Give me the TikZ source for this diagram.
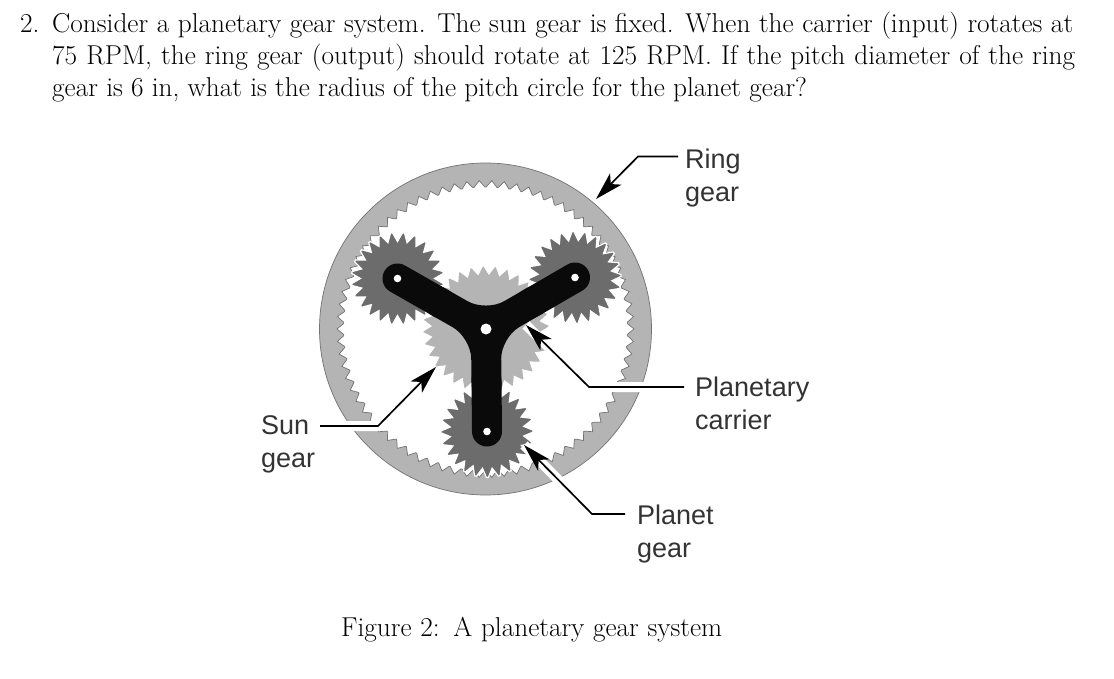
\documentclass[tikz,border=0pt]{standalone}
\usepackage{fontspec}
\usetikzlibrary{arrows.meta,calc}
\newfontfamily\labelfont{Liberation Sans}
\definecolor{gearlight}{HTML}{B4B4B4}
\definecolor{geardark}{HTML}{6C6C6C}
\definecolor{armblack}{HTML}{0A0A0A}
\definecolor{labelgrey}{HTML}{333333}
\newcommand{\toothring}[6]{% centre, root r, tip r, teeth, phase, halfwidth frac
  ($(#1)+(#5:#2)$) \foreach \k in {1,...,#4}{
    -- ($(#1)+({#5+(\k-0.5-#6)*(360/#4)}:#3)$)
    -- ($(#1)+({#5+(\k-0.5+#6)*(360/#4)}:#3)$)
    -- ($(#1)+({#5+\k*(360/#4)}:#2)$)
  } -- cycle
}
\tikzset{
  bodytext/.style={anchor=base west,inner sep=0pt,font=\fontsize{27.3}{32}\selectfont},
  partlabel/.style={anchor=base west,inner sep=0pt,font=\labelfont\fontsize{27}{33}\selectfont,text=labelgrey},
  leader/.style={draw=black,line width=1.7pt,-{Stealth[length=28pt,width=16pt,inset=7pt]}},
  halo/.style={draw=white,line width=10pt},
  ringgear/.style={fill=gearlight,draw=black!55,line width=0.7pt,even odd rule},
  sungear/.style={fill=gearlight,draw=white,line width=1pt},
  planetgear/.style={fill=geardark,draw=white,line width=1.2pt},
  armstroke/.style={draw=armblack,line width=30pt,line cap=round},
  armfill/.style={fill=armblack,rounded corners=21pt},
  pinhole/.style={fill=white}
}
\begin{document}
\begin{tikzpicture}[x=1pt,y=-1pt]
\useasboundingbox[fill=white] (0,0) rectangle (1114,679);

% question text
\node[bodytext] (number) at (20,33) {2.};
\node[bodytext] (line1) at (52,33) {\makebox[1021pt][s]{Consider a planetary gear system. The sun gear is fixed. When the carrier (input) rotates at}};
\node[bodytext] (line2) at (52,65) {\makebox[1023pt][s]{75 RPM, the ring gear (output) should rotate at 125 RPM. If the pitch diameter of the ring}};
\node[bodytext] (line3) at (52,97) {gear is 6 in, what is the radius of the pitch circle for the planet gear?};
\node[bodytext] (caption) at (341,636) {\makebox[381pt][s]{Figure 2:\kern2pt{} A planetary gear system}};

% centres
\coordinate (ringC) at (485.5,329);
\coordinate (hub) at (486,329);
\coordinate (planetA) at (397.5,278.5);
\coordinate (planetB) at (575,277.5);
\coordinate (planetC) at (487,431.5);

% ring gear
\filldraw[ringgear] (ringC) circle[radius=166]
  \toothring{ringC}{148.5}{142}{74}{0}{0.05};

% sun gear
\filldraw[sungear] \toothring{hub}{55}{63}{32}{3}{0.07};

% planet gears
\filldraw[planetgear] \toothring{planetA}{37}{46}{24}{0}{0.08};
\filldraw[planetgear] \toothring{planetB}{37}{46}{24}{5}{0.08};
\filldraw[planetgear] \toothring{planetC}{37}{46}{24}{7}{0.08};

% carrier
\fill[armfill] ($(hub)+(270:17.32)$) -- ($(hub)!0.75!(planetA)+(300:15)$) -- ($(hub)!0.75!(planetA)+(120:15)$)
  -- ($(hub)+(150:17.32)$) -- ($(hub)!0.75!(planetC)+(180:15)$) -- ($(hub)!0.75!(planetC)+(0:15)$)
  -- ($(hub)+(30:17.32)$) -- ($(hub)!0.75!(planetB)+(60:15)$) -- ($(hub)!0.75!(planetB)+(240:15)$) -- cycle;
\draw[armstroke] ($(hub)!0.5!(planetA)$) -- (planetA);
\draw[armstroke] ($(hub)!0.5!(planetB)$) -- (planetB);
\draw[armstroke] ($(hub)!0.5!(planetC)$) -- (planetC);
\fill[pinhole] (hub) circle[radius=5.5];
\fill[pinhole] (planetA) circle[radius=3.8];
\fill[pinhole] (planetB) circle[radius=3.8];
\fill[pinhole] (planetC) circle[radius=3.8];

% labels
\node[partlabel] (ringA) at (685,169) {Ring};
\node[partlabel] (ringB) at (685,202) {gear};
\node[partlabel] (carrierA) at (695,396) {Planetary};
\node[partlabel] (carrierB) at (695,429) {carrier};
\node[partlabel] (sunA) at (261,434) {Sun};
\node[partlabel] (sunB) at (261,467) {gear};
\node[partlabel] (planetLabA) at (637,524) {Planet};
\node[partlabel] (planetLabB) at (637,557) {gear};

% leaders
\coordinate (ringStart) at (678,156.5);
\coordinate (ringElbow) at (638,156.5);
\coordinate (ringTip) at (596,199);
\coordinate (carStart) at (684,387);
\coordinate (carElbow) at (589,387);
\coordinate (carTip) at (526,325);
\coordinate (sunStart) at (320,426);
\coordinate (sunElbow) at (378,426);
\coordinate (sunTip) at (436,367);
\coordinate (plaStart) at (625,514);
\coordinate (plaElbow) at (592,514);
\coordinate (plaTip) at (524,445);

\draw[halo] (carStart) -- (carElbow) -- (carTip);
\draw[halo] (sunStart) -- (sunElbow) -- (sunTip);
\draw[halo] (plaElbow) -- (plaTip);

\draw[leader] (ringStart) -- (ringElbow) -- (ringTip);
\draw[leader] (carStart) -- (carElbow) -- (carTip);
\draw[leader] (sunStart) -- (sunElbow) -- (sunTip);
\draw[leader] (plaStart) -- (plaElbow) -- (plaTip);
\end{tikzpicture}
\end{document}
